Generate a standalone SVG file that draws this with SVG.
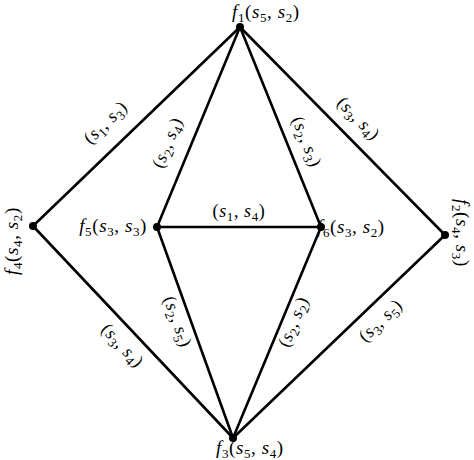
<svg xmlns="http://www.w3.org/2000/svg" width="474" height="460" viewBox="0 0 474 460">
<style>
text{font-family:"Liberation Serif","DejaVu Serif",serif;font-size:19px;fill:#000;letter-spacing:0.6px}
.i{font-style:italic}
.s{font-size:13px}
.e{font-size:18px;text-anchor:middle}
line{stroke:#000;stroke-width:2.6;stroke-linecap:round}
circle{fill:#000}
</style>
<rect width="474" height="460" fill="#fff"/>
<g id="connectors">
<line x1="240" y1="27" x2="33" y2="226"/>
<line x1="240" y1="27" x2="157" y2="227"/>
<line x1="240" y1="27" x2="321" y2="227"/>
<line x1="240" y1="27" x2="445" y2="235"/>
<line x1="157" y1="227" x2="321" y2="227"/>
<line x1="33" y1="226" x2="233" y2="438"/>
<line x1="157" y1="227" x2="233" y2="438"/>
<line x1="321" y1="227" x2="233" y2="438"/>
<line x1="445" y1="235" x2="233" y2="438"/>
<text class="e" transform="translate(106,123) rotate(-44)" y="5">(<tspan class="i">s</tspan><tspan class="s" dy="4">1</tspan><tspan dy="-4">, </tspan><tspan class="i">s</tspan><tspan class="s" dy="4">3</tspan><tspan dy="-4">)</tspan></text>
<text class="e" transform="translate(168,143) rotate(-67.5)" y="5">(<tspan class="i">s</tspan><tspan class="s" dy="4">2</tspan><tspan dy="-4">, </tspan><tspan class="i">s</tspan><tspan class="s" dy="4">4</tspan><tspan dy="-4">)</tspan></text>
<text class="e" transform="translate(306,142) rotate(68)" y="5">(<tspan class="i">s</tspan><tspan class="s" dy="4">2</tspan><tspan dy="-4">, </tspan><tspan class="i">s</tspan><tspan class="s" dy="4">3</tspan><tspan dy="-4">)</tspan></text>
<text class="e" transform="translate(358,119) rotate(45.4)" y="5">(<tspan class="i">s</tspan><tspan class="s" dy="4">3</tspan><tspan dy="-4">, </tspan><tspan class="i">s</tspan><tspan class="s" dy="4">4</tspan><tspan dy="-4">)</tspan></text>
<text class="e" transform="translate(239,212)" y="5">(<tspan class="i">s</tspan><tspan class="s" dy="4">1</tspan><tspan dy="-4">, </tspan><tspan class="i">s</tspan><tspan class="s" dy="4">4</tspan><tspan dy="-4">)</tspan></text>
<text class="e" transform="translate(122,346) rotate(46.7)" y="5">(<tspan class="i">s</tspan><tspan class="s" dy="4">3</tspan><tspan dy="-4">, </tspan><tspan class="i">s</tspan><tspan class="s" dy="4">4</tspan><tspan dy="-4">)</tspan></text>
<text class="e" transform="translate(177,322) rotate(70.2)" y="5">(<tspan class="i">s</tspan><tspan class="s" dy="4">2</tspan><tspan dy="-4">, </tspan><tspan class="i">s</tspan><tspan class="s" dy="4">5</tspan><tspan dy="-4">)</tspan></text>
<text class="e" transform="translate(294,322) rotate(-67.4)" y="5">(<tspan class="i">s</tspan><tspan class="s" dy="4">2</tspan><tspan dy="-4">, </tspan><tspan class="i">s</tspan><tspan class="s" dy="4">2</tspan><tspan dy="-4">)</tspan></text>
<text class="e" transform="translate(381,321) rotate(-43.8)" y="5">(<tspan class="i">s</tspan><tspan class="s" dy="4">3</tspan><tspan dy="-4">, </tspan><tspan class="i">s</tspan><tspan class="s" dy="4">5</tspan><tspan dy="-4">)</tspan></text>
</g>
<g id="f1"><circle cx="240" cy="27" r="4"/><text x="232" y="18"><tspan class="i">f</tspan><tspan class="s" dy="4">1</tspan><tspan dy="-4">(</tspan><tspan class="i">s</tspan><tspan class="s" dy="4">5</tspan><tspan dy="-4">, </tspan><tspan class="i">s</tspan><tspan class="s" dy="4">2</tspan><tspan dy="-4">)</tspan></text></g>
<g id="f4"><circle cx="33" cy="226" r="4"/><text transform="translate(18,241) rotate(-90)" text-anchor="middle"><tspan class="i">f</tspan><tspan class="s" dy="4">4</tspan><tspan dy="-4">(</tspan><tspan class="i">s</tspan><tspan class="s" dy="4">4</tspan><tspan dy="-4">, </tspan><tspan class="i">s</tspan><tspan class="s" dy="4">2</tspan><tspan dy="-4">)</tspan></text></g>
<g id="f2"><circle cx="445" cy="235" r="4"/><text transform="translate(456,233) rotate(90)" text-anchor="middle"><tspan class="i">f</tspan><tspan class="s" dy="4">2</tspan><tspan dy="-4">(</tspan><tspan class="i">s</tspan><tspan class="s" dy="4">4</tspan><tspan dy="-4">, </tspan><tspan class="i">s</tspan><tspan class="s" dy="4">3</tspan><tspan dy="-4">)</tspan></text></g>
<g id="f5"><circle cx="157" cy="227" r="4"/><text x="147" y="232" text-anchor="end"><tspan class="i">f</tspan><tspan class="s" dy="4">5</tspan><tspan dy="-4">(</tspan><tspan class="i">s</tspan><tspan class="s" dy="4">3</tspan><tspan dy="-4">, </tspan><tspan class="i">s</tspan><tspan class="s" dy="4">3</tspan><tspan dy="-4">)</tspan></text></g>
<g id="f6"><circle cx="321" cy="227" r="4"/><text x="317" y="233"><tspan class="i">f</tspan><tspan class="s" dy="4">6</tspan><tspan dy="-4">(</tspan><tspan class="i">s</tspan><tspan class="s" dy="4">3</tspan><tspan dy="-4">, </tspan><tspan class="i">s</tspan><tspan class="s" dy="4">2</tspan><tspan dy="-4">)</tspan></text></g>
<g id="f3"><circle cx="233" cy="438" r="4"/><text x="216" y="454"><tspan class="i">f</tspan><tspan class="s" dy="4">3</tspan><tspan dy="-4">(</tspan><tspan class="i">s</tspan><tspan class="s" dy="4">5</tspan><tspan dy="-4">, </tspan><tspan class="i">s</tspan><tspan class="s" dy="4">4</tspan><tspan dy="-4">)</tspan></text></g>
</svg>
